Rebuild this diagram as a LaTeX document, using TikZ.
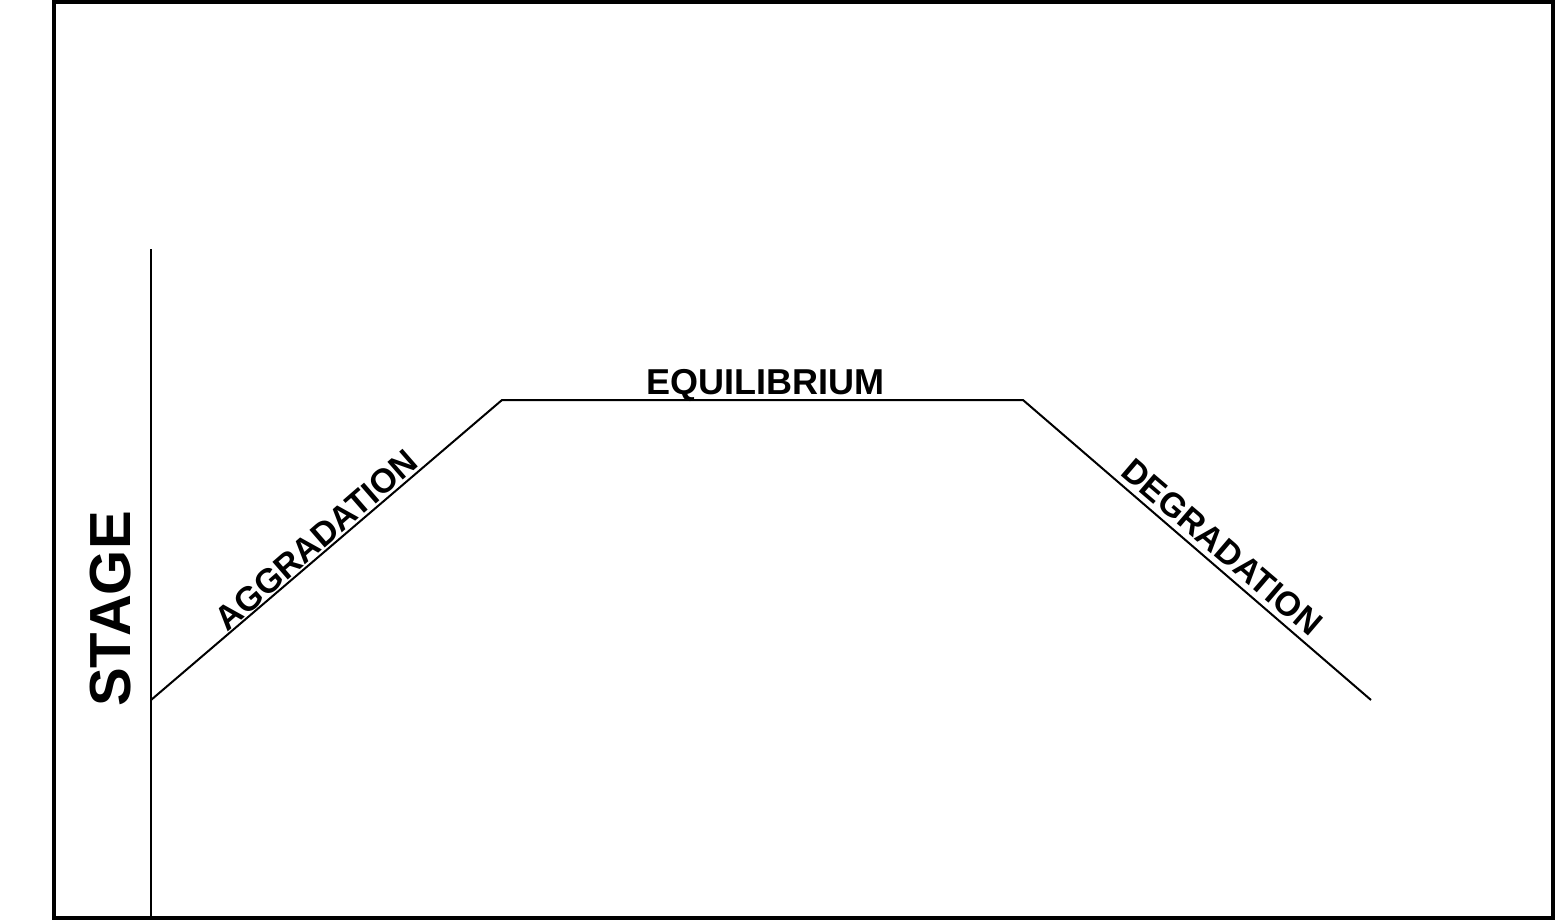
\documentclass[tikz,border=0pt]{standalone}
\usepackage{fontspec}
\setmainfont{Liberation Sans}
\begin{document}
\begin{tikzpicture}[x=1pt,y=-1pt,
 lbl/.style={font=\bfseries\fontsize{34}{34}\selectfont,inner sep=0pt}]
\useasboundingbox (0,0) rectangle (1558,921);
\draw[line width=3.5pt] (54,2) rectangle (1553,918);
\coordinate (top) at (151,249);
\coordinate (bot) at (151,918);
\draw[line width=2pt] (top) -- (bot);
\coordinate (a) at (151,700);
\coordinate (b) at (502,400);
\coordinate (c) at (1023,400);
\coordinate (d) at (1371,700);
\draw[line width=2pt] (a) -- (b) -- (c) -- (d);
\node[lbl,font=\bfseries\fontsize{36}{36}\selectfont] (eq) at (765,385) {EQUILIBRIUM};
\node[lbl,rotate=41] (ag) at (316,540) {AGGRADATION};
\node[lbl,rotate=-40.5] (dg) at (1222,547) {DEGRADATION};
\node[font=\bfseries\fontsize{58}{58}\selectfont,rotate=90,inner sep=0pt] (st) at (111,609) {STAGE};
\end{tikzpicture}
\end{document}
